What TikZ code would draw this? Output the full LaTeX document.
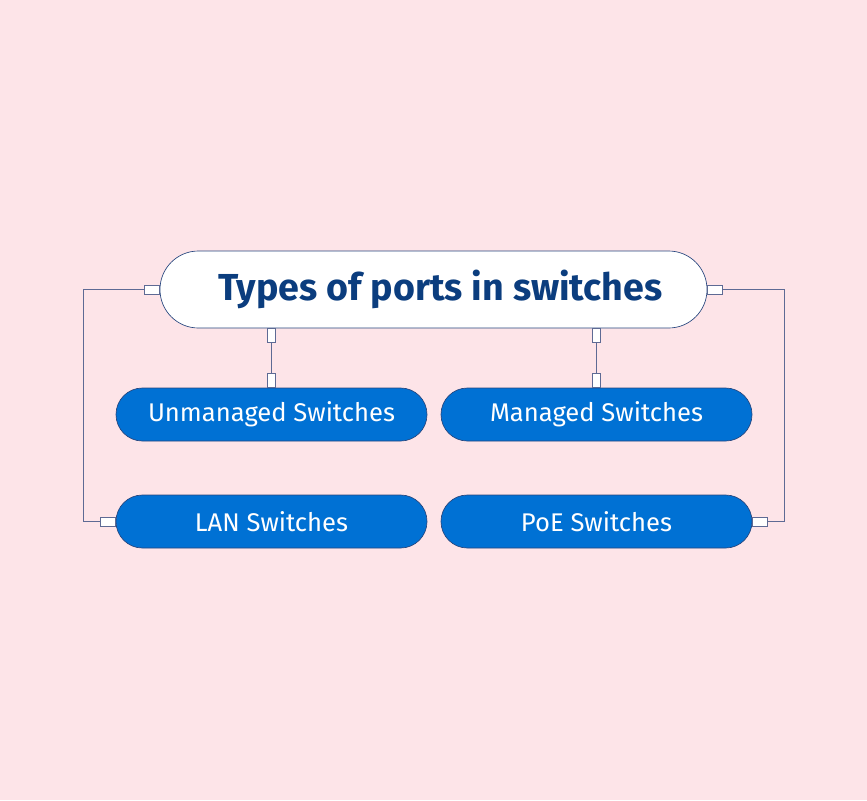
\documentclass[tikz,border=0pt]{standalone}
\usepackage{fontspec}
\setmainfont{Fira Sans}
\usetikzlibrary{positioning}
\definecolor{bgpink}{HTML}{FDE4E8}
\definecolor{titleblue}{HTML}{0B3D7E}
\definecolor{boxblue}{HTML}{0071D4}
\definecolor{boxedge}{HTML}{27467E}
\definecolor{linecol}{HTML}{5E6A94}
\tikzset{
  titlebox/.style={draw=boxedge, fill=white, rounded corners=28.8pt, minimum width=410.25pt, minimum height=57.75pt, line width=0.5pt, text=titleblue, font=\fontsize{28.2}{31}\selectfont\bfseries, inner sep=0pt},
  subbox/.style={draw=boxedge, fill=boxblue, rounded corners=19.8pt, minimum width=233.25pt, minimum height=39.75pt, line width=0.5pt, text=white, font=\fontsize{19.2}{22}\selectfont, inner sep=0pt},
  portv/.style={draw=linecol, fill=white, minimum width=6pt, minimum height=10.5pt, inner sep=0pt, line width=0.5pt},
  porth/.style={draw=linecol, fill=white, minimum width=11pt, minimum height=6.5pt, inner sep=0pt, line width=0.5pt},
  conn/.style={draw=linecol, line width=0.6pt}
}
\begin{document}
\begin{tikzpicture}[x=0.75pt, y=-0.75pt]
\fill[bgpink] (0,0) rectangle (867,800);
\useasboundingbox (0,0) rectangle (867,800);
% nodes
\node[titlebox] (title) at (433.5,289.5) {\hspace*{10pt}Types of ports in switches};
\node[subbox] (unm) at (271.5,414.5) {Unmanaged Switches};
\node[subbox] (man) at (596.5,414.5) {Managed Switches};
\node[subbox] (lan) at (271.5,521.5) {LAN Switches};
\node[subbox] (poe) at (596.5,521.5) {PoE Switches};
% ports
\node[portv, anchor=north] (pt1) at (title.south -| unm.north) {};
\node[portv, anchor=south] (pu) at (unm.north) {};
\node[portv, anchor=north] (pt2) at (title.south -| man.north) {};
\node[portv, anchor=south] (pm) at (man.north) {};
\node[porth, anchor=east] (ptl) at (title.west) {};
\node[porth, anchor=east] (pl) at (lan.west) {};
\node[porth, anchor=west] (ptr) at (title.east) {};
\node[porth, anchor=west] (pp) at (poe.east) {};
\coordinate (cl) at (83,0);
\coordinate (cr) at (784,0);
% connectors
\draw[conn] (pt1.south) -- (pu.north);
\draw[conn] (pt2.south) -- (pm.north);
\draw[conn] (ptl.west) -- (ptl.west -| cl) -- (pl.west -| cl) -- (pl.west);
\draw[conn] (ptr.east) -- (ptr.east -| cr) -- (pp.east -| cr) -- (pp.east);
\end{tikzpicture}
\end{document}
